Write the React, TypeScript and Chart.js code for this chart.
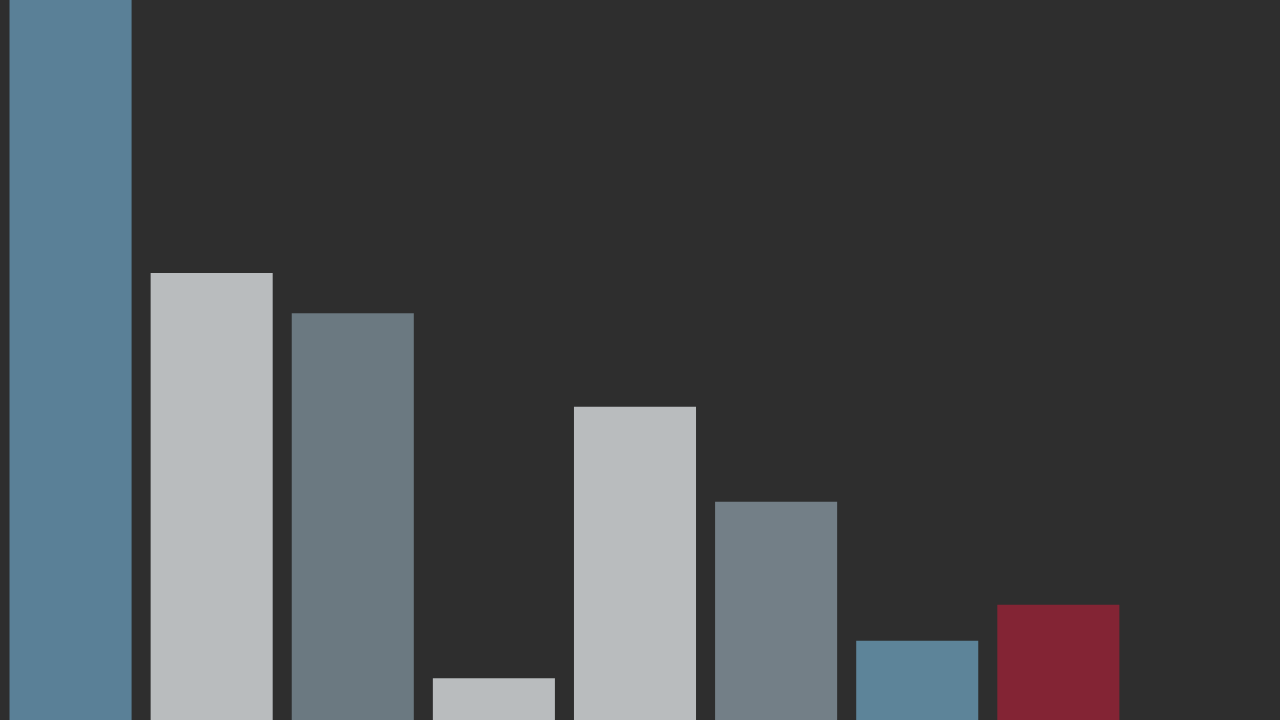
import React, { useRef, useEffect } from "react";
import { Chart, registerables } from "chart.js";

Chart.register(...registerables);

const categories = ["A", "B", "C", "D", "E", "F", "G", "H", "I"];
const values = [105, 62.1, 56.5, 5.8, 43.5, 30.3, 11.0, 16.0, 0];
const barColors = [
  "#5a8097",
  "#b9bcbe",
  "#6b7981",
  "#b9bcbe",
  "#b9bcbe",
  "#737f87",
  "#5d8499",
  "#832434",
  "#5a8097",
];

const App: React.FC = () => {
  const canvasRef = useRef<HTMLCanvasElement | null>(null);
  const chartRef = useRef<Chart | null>(null);

  useEffect(() => {
    if (!canvasRef.current) return;
    const ctx = canvasRef.current.getContext("2d");
    if (!ctx) return;
    if (chartRef.current) chartRef.current.destroy();

    chartRef.current = new Chart(ctx, {
      type: "bar",
      data: {
        labels: categories,
        datasets: [
          {
            data: values,
            backgroundColor: barColors,
            borderWidth: 0,
            categoryPercentage: 1,
            barPercentage: 0.865,
          },
        ],
      },
      options: {
        responsive: true,
        maintainAspectRatio: false,
        animation: false,
        layout: { padding: { left: 0, right: 10, top: 0, bottom: 0 } },
        plugins: {
          legend: { display: false },
          tooltip: { enabled: false },
        },
        scales: {
          x: { display: false },
          y: { display: false, min: 0, max: 100 },
        },
      },
    });

    return () => {
      if (chartRef.current) {
        chartRef.current.destroy();
        chartRef.current = null;
      }
    };
  }, []);

  return (
    <div
      style={{
        position: "fixed",
        left: 0,
        top: 0,
        width: "1280px",
        height: "720px",
        background: "#2e2e2e",
      }}
    >
      <canvas ref={canvasRef}></canvas>
    </div>
  );
};

export default App;
